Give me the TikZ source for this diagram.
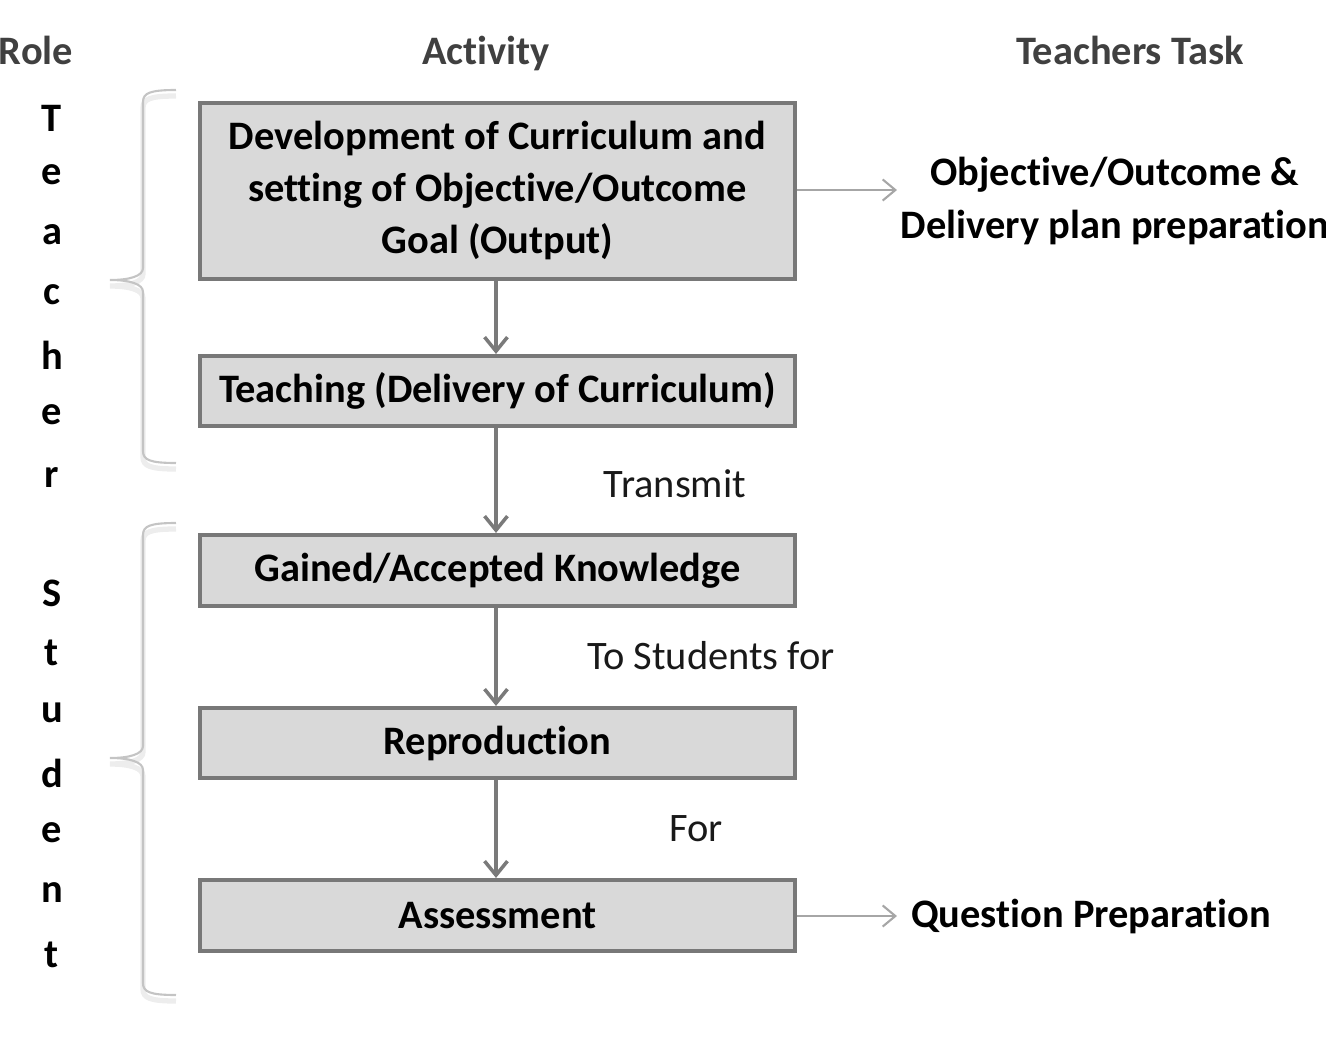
\documentclass[tikz,border=0pt]{standalone}
\usepackage{fontspec}
\setmainfont{Carlito}[Ligatures=NoCommon]
\usetikzlibrary{arrows.meta}
\definecolor{boxfill}{HTML}{D9D9D9}
\definecolor{boxline}{HTML}{787878}
\definecolor{arrline}{HTML}{7A7A7A}
\definecolor{harrline}{HTML}{A6A6A6}
\definecolor{headgray}{HTML}{404040}
\definecolor{bracegray}{HTML}{C4C4C4}
\definecolor{shadowgray}{HTML}{EDEDED}
\tikzset{
  boxtext/.style={font=\fontsize{11.5}{14.8}\selectfont\bfseries},
  actbox/.style={draw=boxline, fill=boxfill, line width=1.15pt, minimum width=5.95cm, align=center, inner sep=0pt, boxtext},
  header/.style={font=\fontsize{11.5}{14.8}\selectfont\bfseries, text=headgray, anchor=base},
  letter/.style={font=\fontsize{11.5}{14.8}\selectfont\bfseries, text=black},
  flowarrow/.style={draw=arrline, line width=1pt, -{Straight Barb[length=4pt,width=6.5pt]}},
  sidearrow/.style={draw=harrline, line width=0.6pt, -{Straight Barb[length=3.6pt,width=6pt]}},
  lbl/.style={font=\fontsize{11.5}{14.8}\selectfont, text=black!90},
  sidetext/.style={font=\fontsize{11.5}{14.8}\selectfont\bfseries, align=center},
  bracestyle/.style={draw=bracegray, line width=0.6pt},
  braceshadow/.style={draw=shadowgray, line width=1.5pt}
}
\begin{document}
\begin{tikzpicture}[x=0.01cm,y=-0.01cm]
\useasboundingbox (0,0) rectangle (1326,1054);
% headers
\node[header] (hrole) at (36,64) {Role};
\node[header] (hact) at (486,64) {Activity};
\node[header] (htask) at (1130,64) {Teachers Task};
% boxes
\node[actbox, minimum height=1.76cm] (b1) at (497.5,191) {\raisebox{-0.07cm}{\begin{tabular}{@{}c@{}}Development of Curriculum and\\setting of Objective/Outcome\\Goal (Output)\end{tabular}}};
\node[actbox, minimum height=0.70cm] (b2) at (497.5,391) {Teaching (Delivery of Curriculum)};
\node[actbox, minimum height=0.71cm] (b3) at (497.5,570.5) {Gained/Accepted Knowledge};
\node[actbox, minimum height=0.70cm] (b4) at (497.5,743) {Reproduction};
\node[actbox, minimum height=0.71cm] (b5) at (497.5,915.5) {Assessment};
% vertical arrows
\draw[flowarrow] (b1.south -| 496,0) -- (b2.north -| 496,0);
\draw[flowarrow] (b2.south -| 496,0) -- (b3.north -| 496,0);
\draw[flowarrow] (b3.south -| 496,0) -- (b4.north -| 496,0);
\draw[flowarrow] (b4.south -| 496,0) -- (b5.north -| 496,0);
% labels
\node[lbl] (l1) at (675,484) {Transmit};
\node[lbl] (l2) at (711,656) {To Students for};
\node[lbl] (l3) at (696,829) {For};
% side tasks
\coordinate (t1) at (897,190);
\coordinate (t2) at (897,916);
\draw[sidearrow] (b1.east |- t1) -- (t1);
\draw[sidearrow] (b5.east |- t2) -- (t2);
\node[sidetext] (s1) at (1115,201) {Objective/Outcome \&\\Delivery plan preparation};
\node[sidetext] (s2) at (1091,916) {Question Preparation};
% role letters
\foreach \ch/\yy [count=\i] in {T/118,e/175,a/235,c/295,h/355,e/415,r/478}
  \node[letter] (tl\i) at (52,\yy) {\ch};
\foreach \ch/\yy [count=\i] in {S/593,t/653,u/713,d/773,e/833,n/893,t/955}
  \node[letter] (sl\i) at (52,\yy) {\ch};
% braces (shadow then brace)
\foreach \dy/\sty in {6/braceshadow,0/bracestyle}{
  \draw[\sty, yshift=-\dy*0.01cm] (176,90) .. controls (150,90) and (143,93) .. (143,102)
    -- (143,268) .. controls (143,276) and (130,280) .. (110,280)
    .. controls (130,280) and (143,284) .. (143,292)
    -- (143,451) .. controls (143,460) and (150,463) .. (176,463);
  \draw[\sty, yshift=-\dy*0.01cm] (176,523) .. controls (150,523) and (143,526) .. (143,535)
    -- (143,746) .. controls (143,754) and (130,758) .. (110,758)
    .. controls (130,758) and (143,762) .. (143,770)
    -- (143,983) .. controls (143,992) and (150,995) .. (176,995);
}
\end{tikzpicture}
\end{document}
